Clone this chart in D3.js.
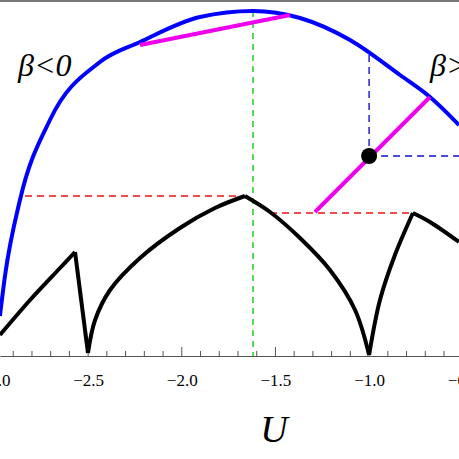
<!DOCTYPE html><html><head><script src="https://cdn.jsdelivr.net/npm/d3@7"></script>
<style>body{margin:0;background:#fff}</style></head><body><svg id="c" width="459" height="459"></svg><script>
const blueU=[-2.971,-2.944,-2.864,-2.704,-2.437,-2.223,-1.903,-1.620,-1.369,-1.102,-0.835,-0.675,-0.520];
const blueV=[0.40,0.80,1.56,2.36,2.94,3.14,3.39,3.45,3.38,3.16,2.81,2.59,2.31];
const blackSegU=[[-2.971,-2.810,-2.650,-2.570],[-2.570,-2.501],[-2.501,-2.463,-2.383,-2.223,-2.010,-1.823,-1.663],[-1.663,-1.529,-1.369,-1.209,-1.075,-1.000],[-1.000,-0.942,-0.862,-0.766],[-0.766,-0.675,-0.520]];
const blackSegV=[[0.21,0.56,0.88,1.04],[1.04,0.03],[0.03,0.36,0.66,0.98,1.28,1.48,1.60],[1.60,1.44,1.18,0.86,0.46,0.01],[0.01,0.56,1.01,1.43],[1.43,1.34,1.14]];
const magentaU=[[-2.223,-1.422],[-1.289,-0.675]];
const magentaV=[[3.11,3.41],[1.44,2.59]];
const redU=[[-2.837,-1.663],[-1.529,-0.766]];
const redV=[1.60,1.43];
const greenU=-1.62;
const dotU=-1.0, dotV=2.0;
const ticks=[-3.0,-2.5,-2.0,-1.5,-1.0,-0.5];
const svg=d3.select("#c");
const x=d3.scaleLinear().domain([-2.9706,-0.520]).range([0,459]);
const y=d3.scaleLinear().domain([0,3.56]).range([356,0]);
svg.append("line").attr("x1",0).attr("x2",459).attr("y1",1).attr("y2",1).attr("stroke","#777").attr("stroke-width",2);
const ax=svg.append("g").attr("transform","translate(0,356)").call(d3.axisBottom(x).tickValues(ticks).tickSize(0).tickPadding(18).tickFormat(d=>d3.format(".1f")(d).replace("-","\u2212")));
ax.select(".domain").attr("stroke","#555");
ax.selectAll("text").attr("font-family","Liberation Serif").attr("font-size",17).attr("fill","#000");
svg.append("g").selectAll("line").data(d3.range(-3.0,-0.45,0.1)).join("line").attr("x1",d=>x(d)).attr("x2",d=>x(d)).attr("y1",356).attr("y2",d=>Math.abs(d*2-Math.round(d*2))<1e-6?347:351).attr("stroke","#555");
svg.append("line").attr("x1",x(greenU)).attr("x2",x(greenU)).attr("y1",y(3.45)).attr("y2",356).attr("stroke","#1c1").attr("stroke-width",1.4).attr("stroke-dasharray","6,5");
redU.forEach((r,i)=>svg.append("line").attr("x1",x(r[0])).attr("x2",x(r[1])).attr("y1",y(redV[i])).attr("y2",y(redV[i])).attr("stroke","#e11").attr("stroke-width",1.4).attr("stroke-dasharray","7,5"));
svg.append("line").attr("x1",x(dotU)).attr("x2",x(dotU)).attr("y1",y(3.01)).attr("y2",y(dotV)).attr("stroke","#11c").attr("stroke-width",1.4).attr("stroke-dasharray","7,5");
svg.append("line").attr("x1",x(dotU)).attr("x2",459).attr("y1",y(dotV)).attr("y2",y(dotV)).attr("stroke","#11c").attr("stroke-width",1.4).attr("stroke-dasharray","7,5");
const line=d3.line().x(d=>x(d[0])).y(d=>y(d[1])).curve(d3.curveCatmullRom);
const bline=d3.line().x(d=>x(d[0])).y(d=>y(d[1])).curve(d3.curveMonotoneX);
svg.append("path").attr("d",bline(blueU.map((u,i)=>[u,blueV[i]]))).attr("fill","none").attr("stroke","#00f").attr("stroke-width",4);
blackSegU.forEach((s,j)=>svg.append("path").attr("d",line(s.map((u,i)=>[u,blackSegV[j][i]]))).attr("fill","none").attr("stroke","#000").attr("stroke-width",4).attr("stroke-linejoin","miter"));
magentaU.forEach((m,i)=>svg.append("line").attr("x1",x(m[0])).attr("x2",x(m[1])).attr("y1",y(magentaV[i][0])).attr("y2",y(magentaV[i][1])).attr("stroke","#e0e").attr("stroke-width",4));
svg.append("circle").attr("cx",x(dotU)).attr("cy",y(dotV)).attr("r",8).attr("fill","#000");
svg.append("text").attr("x",18).attr("y",76).attr("font-family","Liberation Serif").attr("font-style","italic").attr("font-size",32).text("β<0");
svg.append("text").attr("x",430).attr("y",76).attr("font-family","Liberation Serif").attr("font-style","italic").attr("font-size",32).text("β>0");
svg.append("text").attr("x",274).attr("y",442).attr("text-anchor","middle").attr("font-family","Liberation Serif").attr("font-style","italic").attr("font-size",38).text("U");
</script></body></html>
